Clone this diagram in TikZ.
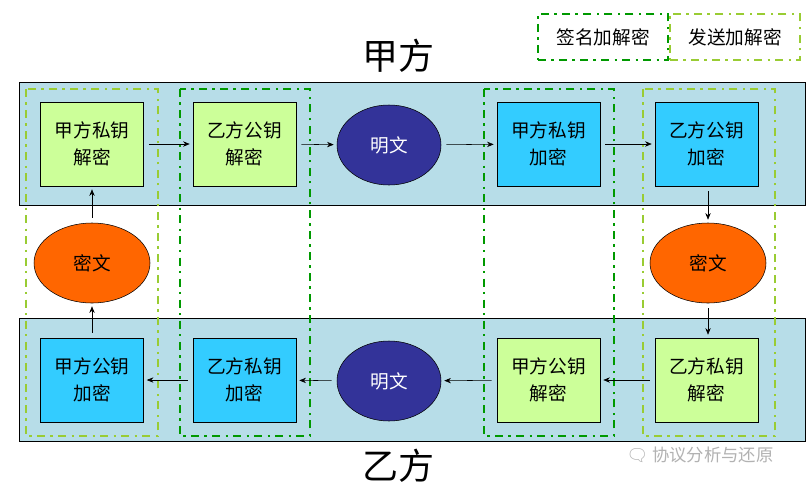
\documentclass[tikz,border=0pt]{standalone}
\usepackage{fontspec}
\setmainfont{Noto Sans CJK SC}
\newfontfamily\emo{Noto Emoji}
\usetikzlibrary{shapes.geometric,arrows.meta}
\definecolor{band}{HTML}{B7DDE8}
\definecolor{lgreen}{HTML}{CCFF99}
\definecolor{cyanb}{HTML}{33CCFF}
\definecolor{navy}{HTML}{333399}
\definecolor{orng}{HTML}{FF6600}
\definecolor{dgreen}{HTML}{009900}
\definecolor{lime}{HTML}{99CC33}
\newlength\px \setlength\px{0.75pt}
\tikzset{
 keybox/.style={draw=black,minimum width=103\px,minimum height=84\px,align=center,font=\fontsize{14}{20}\selectfont,inner sep=0pt},
 gbox/.style={keybox,fill=lgreen},
 cbox/.style={keybox,fill=cyanb},
 plain/.style={ellipse,draw=black,fill=navy,minimum width=104\px,minimum height=80\px,text=white,font=\fontsize{14}{17}\selectfont},
 cipher/.style={ellipse,draw=black,fill=orng,minimum width=116\px,minimum height=80\px,font=\fontsize{14}{17}\selectfont},
 arr/.style={-{Stealth[length=5pt,width=4pt]},thin,shorten <=5\px,shorten >=3\px},
 dg/.style={draw=dgreen,line width=1.8pt,dash pattern=on 6pt off 4pt on 1.8pt off 4pt},
 lg/.style={draw=lime,line width=1.8pt,dash pattern=on 6pt off 4pt on 1.8pt off 4pt},
}
\begin{document}
\begin{tikzpicture}[x=0.75pt,y=-0.75pt]
\useasboundingbox (0,0) rectangle (809,489);
\fill[white] (0,0) rectangle (809,489);
\draw[fill=band] (19,82) rectangle (805,205);
\draw[fill=band] (19,318) rectangle (805,441);
\node[gbox] (a1) at (92,144) {甲方私钥\\解密};
\node[gbox] (a2) at (244.5,144) {乙方公钥\\解密};
\node[plain] (a3) at (389,145) {明文};
\node[cbox] (a4) at (548.5,144) {甲方私钥\\加密};
\node[cbox] (a5) at (706.5,144) {乙方公钥\\加密};
\node[cbox] (b1) at (92,380) {甲方公钥\\加密};
\node[cbox] (b2) at (244.5,380) {乙方私钥\\加密};
\node[plain] (b3) at (389,381) {明文};
\node[gbox] (b4) at (548.5,380) {甲方公钥\\解密};
\node[gbox] (b5) at (706.5,380) {乙方私钥\\解密};
\node[cipher] (c1) at (92,263) {密文};
\node[cipher] (c2) at (708,263) {密文};
\draw[lg] (26,89) rectangle (158,436);
\draw[lg] (643,89) rectangle (775,436);
\draw[dg] (180,89) rectangle (310,436);
\draw[dg] (484,89) rectangle (614,436);
\draw[arr] (a1) -- (a2);
\draw[arr] (a2) -- (a3);
\draw[arr] (a3) -- (a4);
\draw[arr] (a4) -- (a5);
\draw[arr] (a5.south -| c2) -- (c2);
\draw[arr] (c2) -- (b5.north -| c2);
\draw[arr] (b5) -- (b4);
\draw[arr] (b4) -- (b3);
\draw[arr] (b3) -- (b2);
\draw[arr] (b2) -- (b1);
\draw[arr] (b1) -- (c1);
\draw[arr] (c1) -- (a1);
\node[font=\fontsize{27}{30}\selectfont] (t1) at (398,56) {甲方};
\node[font=\fontsize{27}{30}\selectfont] (t2) at (398,466) {乙方};
\node[dg,minimum width=130\px,minimum height=46\px,font=\fontsize{14}{17}\selectfont] (l1) at (603,37) {签名加解密};
\node[lg,minimum width=130\px,minimum height=46\px,font=\fontsize{14}{17}\selectfont] (l2) at (735,37) {发送加解密};
\node[text=gray!60,font=\fontsize{13}{16}\selectfont] (w) at (700,455) {{\emo 🗨}\ 协议分析与还原};
\end{tikzpicture}
\end{document}
